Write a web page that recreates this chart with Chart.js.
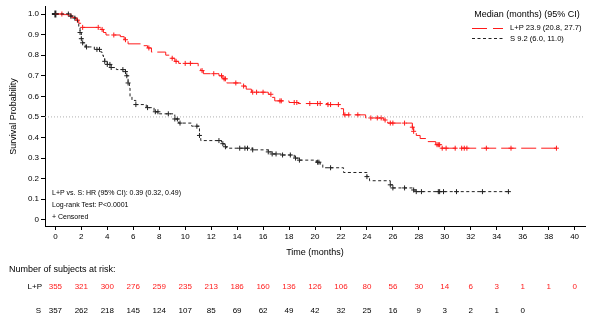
<!DOCTYPE html>
<html>
<head>
<meta charset="utf-8">
<script src="https://cdn.jsdelivr.net/npm/chart.js@4.4.1/dist/chart.umd.min.js"></script>
<style>
  html, body { margin: 0; padding: 0; background: #fff; }
  #wrap { position: relative; width: 595px; height: 326px; }
</style>
</head>
<body>
<div id="wrap"><canvas id="km"></canvas></div>
<script>
const FONT = '"Liberation Sans", Arial, sans-serif';
const RED = '#ff1a1a';
const DARK = '#222';

// L+P: event times and survival after each event
const lpEventT = [0, 0.6, 1.0, 1.3, 1.6, 1.8, 2.0, 3.5, 3.7, 3.9, 5.0, 5.3, 5.6, 6.8, 7.1, 7.4, 8.5, 8.9, 9.2, 9.5,
  11.0, 11.2, 11.4, 12.6, 12.9, 13.2, 14.3, 14.7, 15.1, 16.4, 16.7, 16.9, 18.0, 18.7, 21.0, 22.0, 22.2, 23.9, 25.3, 25.6,
  27.5, 27.6, 27.8, 28.1, 28.7, 29.3, 29.7, 38.6];
const lpEventS = [1.0, 0.997, 0.99, 0.983, 0.97, 0.955, 0.935, 0.925, 0.91, 0.898, 0.89, 0.875, 0.855, 0.846, 0.835, 0.815, 0.80, 0.785, 0.77, 0.76,
  0.745, 0.725, 0.71, 0.70, 0.685, 0.665, 0.65, 0.635, 0.62, 0.61, 0.595, 0.578, 0.57, 0.565, 0.56, 0.54, 0.51, 0.495, 0.485, 0.47,
  0.45, 0.43, 0.41, 0.395, 0.38, 0.365, 0.348, 0.348];
const lpCensorT = [0.5, 1.2, 1.7, 2.1, 3.3, 3.6, 4.5, 5.4, 7.2, 9.0, 9.3, 10.0, 10.4, 11.3, 12.2, 12.8, 13.0, 13.1, 13.9, 14.5,
  15.2, 15.5, 16.0, 16.6, 17.3, 17.4, 18.4, 18.6, 19.6, 20.2, 20.4, 21.0, 21.2, 21.8, 22.3, 22.6, 23.3, 24.3, 24.8, 25.1,
  25.4, 25.8, 26.0, 26.9, 27.5, 27.6, 29.4, 29.5, 29.6, 29.8, 30.1, 30.8, 31.3, 31.5, 31.7, 33.2, 35.1, 38.6];

// S: event times and survival after each event
const sEventT = [0, 1.1, 1.5, 1.7, 1.8, 1.9, 2.0, 2.1, 2.3, 3.0, 3.5, 3.6, 3.7, 3.8, 4.0, 4.3, 4.7, 5.4, 5.5, 5.6,
  5.7, 5.75, 5.9, 6.2, 7.0, 7.6, 8.0, 9.2, 9.5, 10.5, 11.1, 11.2, 12.8, 13.0, 13.2, 15.2, 16.4, 16.7, 17.4, 18.4,
  18.8, 20.1, 20.4, 20.6, 22.2, 24.0, 24.2, 25.8, 26.0, 27.6, 27.8, 35.0];
const sEventS = [1.0, 0.99, 0.98, 0.96, 0.94, 0.91, 0.88, 0.86, 0.84, 0.828, 0.815, 0.80, 0.785, 0.77, 0.755, 0.74, 0.73, 0.72, 0.70, 0.665,
  0.64, 0.60, 0.58, 0.56, 0.545, 0.525, 0.515, 0.49, 0.47, 0.455, 0.41, 0.385, 0.37, 0.355, 0.348, 0.34, 0.33, 0.32, 0.315, 0.30,
  0.29, 0.28, 0.27, 0.253, 0.23, 0.21, 0.19, 0.17, 0.155, 0.145, 0.137, 0.137];
const sCensorT = [0, 1.0, 1.2, 1.5, 1.9, 2.0, 2.1, 2.4, 3.2, 3.4, 3.8, 4.0, 4.2, 4.3, 5.2, 5.4, 5.5, 5.6, 6.2, 7.1,
  7.7, 7.9, 8.7, 9.2, 9.4, 9.6, 10.9, 11.1, 12.6, 12.9, 13.1, 14.2, 14.6, 14.8, 15.2, 16.4, 16.7, 17.0, 17.5, 18.1,
  18.5, 18.8, 20.2, 20.3, 21.2, 24.0, 25.8, 26.0, 26.9, 27.6, 27.8, 28.2, 29.5, 29.6, 29.9, 30.9, 32.9, 34.9];

// number at risk
const riskT = [0, 2, 4, 6, 8, 10, 12, 14, 16, 18, 20, 22, 24, 26, 28, 30, 32, 34, 36, 38, 40];
const lpRisk = [355, 321, 300, 276, 259, 235, 213, 186, 160, 136, 126, 106, 80, 56, 30, 14, 6, 3, 1, 1, 0];
const sRisk = [357, 262, 218, 145, 124, 107, 85, 69, 62, 49, 42, 32, 25, 16, 9, 3, 2, 1, 0];

const xTicks = [0, 2, 4, 6, 8, 10, 12, 14, 16, 18, 20, 22, 24, 26, 28, 30, 32, 34, 36, 38, 40];
const yTicks = [0, 0.1, 0.2, 0.3, 0.4, 0.5, 0.6, 0.7, 0.8, 0.9, 1.0];

const legendTitle = 'Median (months) (95% CI)';
const lpLabel = 'L+P 23.9 (20.8, 27.7)';
const sLabel = 'S 9.2 (6.0, 11.0)';
const notes = ['L+P vs. S: HR (95% CI): 0.39 (0.32, 0.49)', 'Log-rank Test: P<0.0001', '+ Censored'];

const steps = (ts, ss) => ts.map((t, i) => ({ x: t, y: ss[i] }));
// survival value of the step curve at time t
const survAt = (ts, ss, t) => {
  let v = ss[0];
  ts.forEach((e, i) => { if (e <= t) v = ss[i]; });
  return v;
};
const censors = (cs, ts, ss) => cs.map(t => ({ x: t, y: survAt(ts, ss, t) }));

const textPlugin = {
  id: 'kmText',
  afterDraw(chart) {
    const ctx = chart.ctx;
    const x = chart.scales.x;
    ctx.save();
    ctx.textBaseline = 'middle';

    // legend box top right
    ctx.fillStyle = '#000';
    ctx.font = '9px ' + FONT;
    ctx.textAlign = 'center';
    ctx.fillText(legendTitle, 527, 15);
    ctx.lineWidth = 1;
    ctx.strokeStyle = RED;
    ctx.setLineDash([15, 6]);
    ctx.beginPath(); ctx.moveTo(472, 28.5); ctx.lineTo(503, 28.5); ctx.stroke();
    ctx.strokeStyle = DARK;
    ctx.setLineDash([3, 2.5]);
    ctx.beginPath(); ctx.moveTo(472, 38.5); ctx.lineTo(503, 38.5); ctx.stroke();
    ctx.setLineDash([]);
    ctx.font = '7.6px ' + FONT;
    ctx.textAlign = 'left';
    ctx.fillText(lpLabel, 510, 28);
    ctx.fillText(sLabel, 510, 38.5);

    // notes bottom left of plot
    ctx.font = '7px ' + FONT;
    notes.forEach((n, i) => ctx.fillText(n, 52, 193 + i * 11.8));

    // at-risk table
    ctx.font = '9px ' + FONT;
    ctx.fillText('Number of subjects at risk:', 9, 270);
    ctx.font = '8px ' + FONT;
    ctx.textAlign = 'right';
    ctx.fillText('L+P', 42, 287);
    ctx.fillText('S', 41, 311);
    ctx.textAlign = 'center';
    ctx.fillStyle = RED;
    lpRisk.forEach((n, i) => ctx.fillText(String(n), x.getPixelForValue(riskT[i]), 287));
    ctx.fillStyle = '#000';
    sRisk.forEach((n, i) => ctx.fillText(String(n), x.getPixelForValue(riskT[i]), 311));
    ctx.restore();
  }
};

new Chart(document.getElementById('km'), {
  type: 'line',
  data: {
    datasets: [
      {
        label: 'median',
        data: [{ x: -0.8, y: 0.5 }, { x: 40.8, y: 0.5 }],
        borderColor: '#b0b0b0',
        borderWidth: 1,
        borderDash: [1, 2],
        pointRadius: 0
      },
      {
        label: 'S',
        data: steps(sEventT, sEventS),
        stepped: 'before',
        borderColor: DARK,
        borderWidth: 1,
        borderDash: [3, 2.5],
        pointRadius: 0
      },
      {
        label: 'L+P',
        data: steps(lpEventT, lpEventS),
        stepped: 'before',
        borderColor: RED,
        borderWidth: 1,
        borderDash: [15, 5],
        pointRadius: 0
      },
      {
        label: 'S censored',
        data: censors(sCensorT, sEventT, sEventS),
        showLine: false,
        pointStyle: 'cross',
        pointRadius: c => c.raw && c.raw.x === 0 ? 3.5 : 2.5,
        pointBorderWidth: c => c.raw && c.raw.x === 0 ? 2 : 1,
        pointBorderColor: DARK
      },
      {
        label: 'L+P censored',
        data: censors(lpCensorT, lpEventT, lpEventS),
        showLine: false,
        pointStyle: 'cross',
        pointRadius: 2.5,
        pointBorderWidth: 1,
        pointBorderColor: RED
      }
    ]
  },
  options: {
    responsive: true,
    maintainAspectRatio: false,
    animation: false,
    layout: { padding: { left: 0, right: 10, top: 5, bottom: 66 } },
    plugins: { legend: { display: false }, tooltip: { enabled: false } },
    scales: {
      x: {
        type: 'linear',
        min: -0.8,
        max: 40.8,
        afterBuildTicks: s => { s.ticks = xTicks.map(v => ({ value: v })); },
        afterFit: s => { s.height = 34; },
        grid: { drawOnChartArea: false, drawTicks: true, tickLength: 4, color: '#000' },
        border: { display: true, color: '#000', width: 1 },
        ticks: { color: '#000', font: { family: FONT, size: 8 }, padding: 2, maxRotation: 0, autoSkip: false },
        title: { display: true, text: 'Time (months)', color: '#000', font: { family: FONT, size: 9 }, padding: { top: 0, bottom: 2 } }
      },
      y: {
        type: 'linear',
        min: -0.03,
        max: 1.035,
        afterBuildTicks: s => { s.ticks = yTicks.map(v => ({ value: v })); },
        afterFit: s => { s.width = 45; },
        grid: { drawOnChartArea: false, drawTicks: true, tickLength: 4, color: '#000' },
        border: { display: true, color: '#000', width: 1 },
        ticks: { color: '#000', font: { family: FONT, size: 8 }, padding: 2,
          callback: v => v === 0 ? '0' : v.toFixed(1) },
        title: { display: true, text: 'Survival Probability', color: '#000', font: { family: FONT, size: 9 }, padding: { top: 8, bottom: 0 } }
      }
    }
  },
  plugins: [textPlugin]
});
</script>
</body>
</html>
